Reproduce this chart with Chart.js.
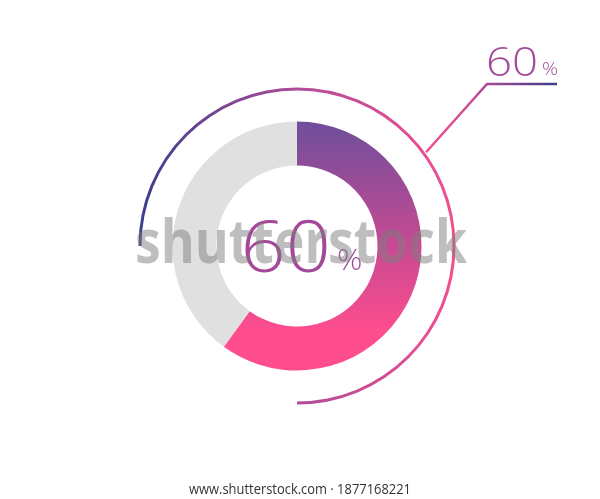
<!DOCTYPE html>
<html>
<head>
<meta charset="utf-8">
<script src="https://cdn.jsdelivr.net/npm/chart.js@4/dist/chart.umd.min.js"></script>
<style>
  html, body { margin: 0; padding: 0; background: #ffffff; }
  #wrap { width: 600px; height: 499px; }
</style>
</head>
<body>
<div id="wrap"><canvas id="c" width="600" height="499"></canvas></div>
<script>
// ---- data ----
const categories = ['Filled', 'Remaining'];
const percentValues = [60, 40];
const outerArcCategories = ['Arc', 'Gap'];
const outerArcValues = [75, 25];
const spacerValues = [1];
const centerLabel = ['60', '%'];
const calloutLabel = ['60', '%'];
const footerText = 'www.shutterstock.com · 1877168221';
const watermarkText = 'shutterstock';

const PURPLE = '#6f4e9b';
const PINK = '#ff4d8e';
const NAVY = '#3b3f8d';
const GREY = '#e0e0e0';
const FONT = '"Open Sans", Lato, sans-serif';

function donutGradient(chart) {
  const a = chart.chartArea;
  if (!a) return PINK;
  const cy = (a.top + a.bottom) / 2;
  const R = (a.bottom - a.top) / 2;
  const g = chart.ctx.createLinearGradient(0, cy - R * 0.78, 0, cy + R * 0.55);
  g.addColorStop(0, PURPLE);
  g.addColorStop(0.55, '#c24a93');
  g.addColorStop(1, PINK);
  return g;
}
function arcGradient(chart) {
  const a = chart.chartArea;
  if (!a) return PINK;
  const g = chart.ctx.createLinearGradient(a.left, 0, a.right, 0);
  g.addColorStop(0, NAVY);
  g.addColorStop(0.5, '#b04c98');
  g.addColorStop(1, '#f24f8f');
  return g;
}

// draw text left-aligned at (x, y) stretched horizontally by sx; returns drawn width
function wideText(ctx, txt, x, y, sx) {
  ctx.save();
  ctx.translate(x, y);
  ctx.scale(sx, 1);
  ctx.textAlign = 'left';
  ctx.fillText(txt, 0, 0);
  const w = ctx.measureText(txt).width * sx;
  ctx.restore();
  return w;
}

const decor = {
  id: 'decor',
  afterDraw(chart) {
    const ctx = chart.ctx;
    const meta = chart.getDatasetMeta(2);
    const arc = meta.data[0];
    const cx = arc.x, cy = arc.y;
    const Rout = chart.getDatasetMeta(0).data[0].outerRadius;
    ctx.save();
    // leader line
    const ang = -36 * Math.PI / 180;
    const p0x = cx + Math.cos(ang) * (Rout + 1), p0y = cy + Math.sin(ang) * (Rout + 1);
    const p1x = cx + 190, p1y = cy - 162;
    const p2x = cx + 260;
    const lg = ctx.createLinearGradient(p0x, p0y, p2x, p1y);
    lg.addColorStop(0, '#ee4f8f');
    lg.addColorStop(0.45, '#c84d94');
    lg.addColorStop(1, NAVY);
    ctx.strokeStyle = lg;
    ctx.lineWidth = 2.5;
    ctx.beginPath();
    ctx.moveTo(p0x, p0y);
    ctx.lineTo(p1x, p1y);
    ctx.lineTo(p2x, p1y);
    ctx.stroke();

    // callout label
    ctx.fillStyle = '#a24c98';
    ctx.textBaseline = 'alphabetic';
    ctx.font = '300 40px ' + FONT;
    const w60 = wideText(ctx, calloutLabel[0], p1x - 1, p1y - 8, 1.14);
    ctx.font = '300 19px ' + FONT;
    wideText(ctx, calloutLabel[1], p1x - 1 + w60 + 4, p1y - 9, 1.05);

    // center label
    ctx.fillStyle = '#a4489a';
    ctx.font = '300 72px ' + FONT;
    const wc = ctx.measureText(centerLabel[0]).width * 1.1;
    wideText(ctx, centerLabel[0], cx + 34 - wc, cy + 26, 1.1);
    ctx.font = '300 30px ' + FONT;
    wideText(ctx, centerLabel[1], cx + 40, cy + 24, 1.05);

    // watermark
    ctx.fillStyle = 'rgba(125,125,125,0.5)';
    ctx.font = 'bold 60px "Open Sans", "DejaVu Sans", sans-serif';
    ctx.textAlign = 'center';
    ctx.fillText(watermarkText, cx + 4, cy + 17, 332);

    // footer
    ctx.fillStyle = '#333333';
    ctx.font = '15px "Open Sans", "DejaVu Sans", sans-serif';
    ctx.textAlign = 'center';
    ctx.fillText(footerText, 300, 494, 222);
    ctx.restore();
  }
};

new Chart(document.getElementById('c'), {
  type: 'doughnut',
  data: {
    labels: categories,
    datasets: [
      {
        label: 'outer arc',
        data: outerArcValues,
        rotation: -90,
        weight: 3,
        borderWidth: 0,
        backgroundColor: (c) => c.dataIndex === 0 ? arcGradient(c.chart) : 'rgba(0,0,0,0)'
      },
      {
        label: 'spacer',
        data: spacerValues,
        weight: 31,
        borderWidth: 0,
        backgroundColor: 'rgba(0,0,0,0)'
      },
      {
        label: 'percent',
        data: percentValues,
        weight: 44,
        borderWidth: 0,
        backgroundColor: (c) => c.dataIndex === 0 ? donutGradient(c.chart) : GREY
      }
    ]
  },
  options: {
    responsive: false,
    animation: false,
    cutout: '50.8%',
    layout: { padding: { left: 138.5, right: 144.5, top: 87.5, bottom: 94.5 } },
    plugins: { legend: { display: false }, tooltip: { enabled: false } }
  },
  plugins: [decor]
});
</script>
</body>
</html>
